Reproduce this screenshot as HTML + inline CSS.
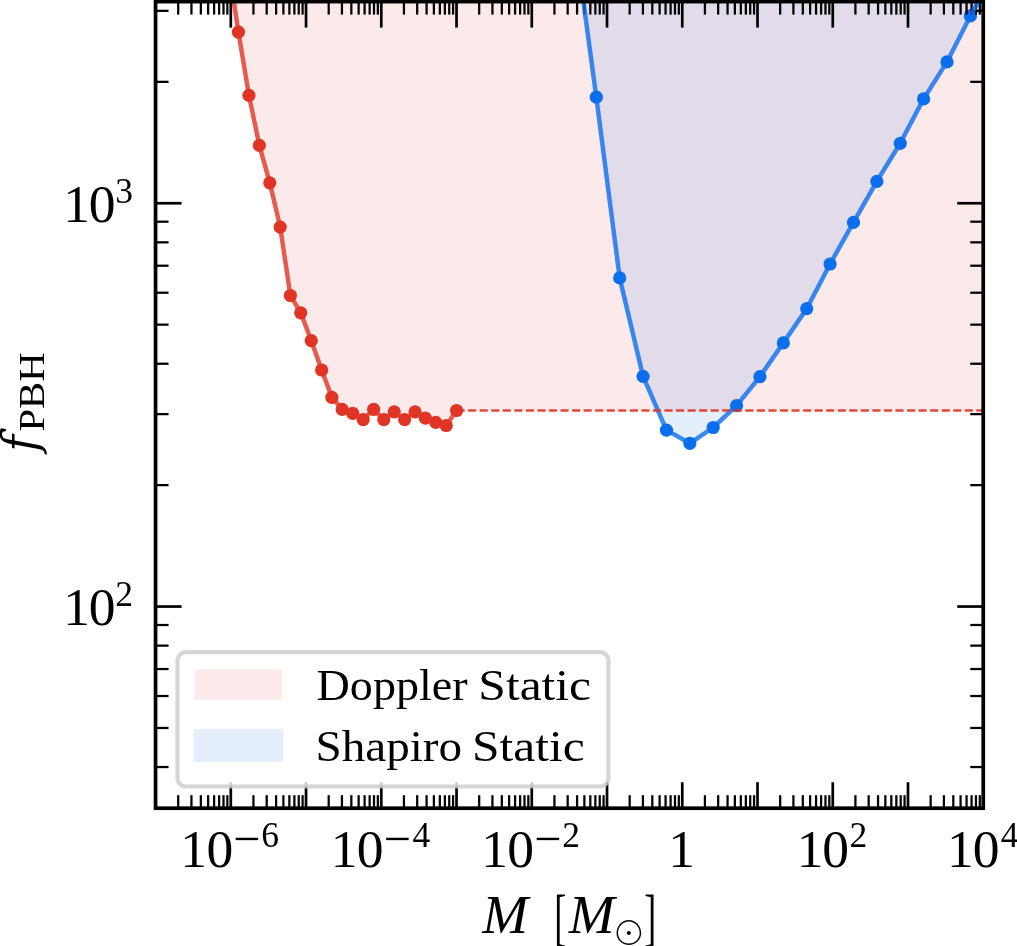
<!DOCTYPE html>
<html><head><meta charset="utf-8"><title>f_PBH vs M</title>
<style>html,body{margin:0;padding:0;background:#fff;overflow:hidden}svg{display:block}</style>
</head><body>
<svg width="1017" height="946" viewBox="0 0 1017 946">
<defs><clipPath id="ax"><rect x="155.55" y="1.60" width="827.70" height="806.60"/></clipPath></defs>
<rect width="1017" height="946" fill="#fff"/>
<g clip-path="url(#ax)">
<polygon points="227.90,-37.60 238.44,32.10 248.93,95.40 259.32,145.40 269.76,182.80 280.20,227.10 290.39,295.50 300.73,312.80 311.26,340.70 321.65,370.00 331.84,397.30 342.18,409.30 352.72,413.40 363.21,419.60 373.65,409.30 383.79,419.60 394.23,411.80 404.62,419.60 415.06,411.80 425.35,418.20 435.74,422.40 446.23,425.50 456.57,410.50 1100.00,410.50 1100.00,-200.00 227.90,-200.00" fill="#e13038" fill-opacity="0.1"/>
<polygon points="572.92,-76.20 596.30,97.20 619.68,277.90 643.06,376.40 666.44,430.10 689.82,443.30 713.20,427.50 736.58,405.70 759.96,376.70 783.34,342.90 806.72,308.70 830.10,264.00 853.48,222.40 876.86,181.40 900.24,143.30 923.62,98.90 947.00,61.90 970.38,15.90 993.76,-26.00 993.76,-200.00 572.92,-200.00" fill="#146ee1" fill-opacity="0.11"/>
<circle cx="596.30" cy="97.20" r="6.6" fill="#0a6eee"/>
<circle cx="619.68" cy="277.90" r="6.6" fill="#0a6eee"/>
<circle cx="643.06" cy="376.40" r="6.6" fill="#0a6eee"/>
<circle cx="666.44" cy="430.10" r="6.6" fill="#0a6eee"/>
<circle cx="689.82" cy="443.30" r="6.6" fill="#0a6eee"/>
<circle cx="713.20" cy="427.50" r="6.6" fill="#0a6eee"/>
<circle cx="736.58" cy="405.70" r="6.6" fill="#0a6eee"/>
<circle cx="759.96" cy="376.70" r="6.6" fill="#0a6eee"/>
<circle cx="783.34" cy="342.90" r="6.6" fill="#0a6eee"/>
<circle cx="806.72" cy="308.70" r="6.6" fill="#0a6eee"/>
<circle cx="830.10" cy="264.00" r="6.6" fill="#0a6eee"/>
<circle cx="853.48" cy="222.40" r="6.6" fill="#0a6eee"/>
<circle cx="876.86" cy="181.40" r="6.6" fill="#0a6eee"/>
<circle cx="900.24" cy="143.30" r="6.6" fill="#0a6eee"/>
<circle cx="923.62" cy="98.90" r="6.6" fill="#0a6eee"/>
<circle cx="947.00" cy="61.90" r="6.6" fill="#0a6eee"/>
<circle cx="970.38" cy="15.90" r="6.6" fill="#0a6eee"/>
<circle cx="238.44" cy="32.10" r="6.6" fill="#e03424"/>
<circle cx="248.93" cy="95.40" r="6.6" fill="#e03424"/>
<circle cx="259.32" cy="145.40" r="6.6" fill="#e03424"/>
<circle cx="269.76" cy="182.80" r="6.6" fill="#e03424"/>
<circle cx="280.20" cy="227.10" r="6.6" fill="#e03424"/>
<circle cx="290.39" cy="295.50" r="6.6" fill="#e03424"/>
<circle cx="300.73" cy="312.80" r="6.6" fill="#e03424"/>
<circle cx="311.26" cy="340.70" r="6.6" fill="#e03424"/>
<circle cx="321.65" cy="370.00" r="6.6" fill="#e03424"/>
<circle cx="331.84" cy="397.30" r="6.6" fill="#e03424"/>
<circle cx="342.18" cy="409.30" r="6.6" fill="#e03424"/>
<circle cx="352.72" cy="413.40" r="6.6" fill="#e03424"/>
<circle cx="363.21" cy="419.60" r="6.6" fill="#e03424"/>
<circle cx="373.65" cy="409.30" r="6.6" fill="#e03424"/>
<circle cx="383.79" cy="419.60" r="6.6" fill="#e03424"/>
<circle cx="394.23" cy="411.80" r="6.6" fill="#e03424"/>
<circle cx="404.62" cy="419.60" r="6.6" fill="#e03424"/>
<circle cx="415.06" cy="411.80" r="6.6" fill="#e03424"/>
<circle cx="425.35" cy="418.20" r="6.6" fill="#e03424"/>
<circle cx="435.74" cy="422.40" r="6.6" fill="#e03424"/>
<circle cx="446.23" cy="425.50" r="6.6" fill="#e03424"/>
<circle cx="456.57" cy="410.50" r="6.6" fill="#e03424"/>
</g>
<g stroke="#000" fill="none"><line x1="178.20" y1="808.20" x2="178.20" y2="795.20" stroke-width="2.25"/><line x1="178.20" y1="1.60" x2="178.20" y2="14.60" stroke-width="2.25"/><line x1="191.45" y1="808.20" x2="191.45" y2="795.20" stroke-width="2.25"/><line x1="191.45" y1="1.60" x2="191.45" y2="14.60" stroke-width="2.25"/><line x1="200.85" y1="808.20" x2="200.85" y2="795.20" stroke-width="2.25"/><line x1="200.85" y1="1.60" x2="200.85" y2="14.60" stroke-width="2.25"/><line x1="208.14" y1="808.20" x2="208.14" y2="795.20" stroke-width="2.25"/><line x1="208.14" y1="1.60" x2="208.14" y2="14.60" stroke-width="2.25"/><line x1="214.10" y1="808.20" x2="214.10" y2="795.20" stroke-width="2.25"/><line x1="214.10" y1="1.60" x2="214.10" y2="14.60" stroke-width="2.25"/><line x1="219.14" y1="808.20" x2="219.14" y2="795.20" stroke-width="2.25"/><line x1="219.14" y1="1.60" x2="219.14" y2="14.60" stroke-width="2.25"/><line x1="223.50" y1="808.20" x2="223.50" y2="795.20" stroke-width="2.25"/><line x1="223.50" y1="1.60" x2="223.50" y2="14.60" stroke-width="2.25"/><line x1="227.35" y1="808.20" x2="227.35" y2="795.20" stroke-width="2.25"/><line x1="227.35" y1="1.60" x2="227.35" y2="14.60" stroke-width="2.25"/><line x1="230.80" y1="808.20" x2="230.80" y2="782.20" stroke-width="2.70"/><line x1="230.80" y1="1.60" x2="230.80" y2="27.60" stroke-width="2.70"/><line x1="253.45" y1="808.20" x2="253.45" y2="795.20" stroke-width="2.25"/><line x1="253.45" y1="1.60" x2="253.45" y2="14.60" stroke-width="2.25"/><line x1="266.70" y1="808.20" x2="266.70" y2="795.20" stroke-width="2.25"/><line x1="266.70" y1="1.60" x2="266.70" y2="14.60" stroke-width="2.25"/><line x1="276.10" y1="808.20" x2="276.10" y2="795.20" stroke-width="2.25"/><line x1="276.10" y1="1.60" x2="276.10" y2="14.60" stroke-width="2.25"/><line x1="283.39" y1="808.20" x2="283.39" y2="795.20" stroke-width="2.25"/><line x1="283.39" y1="1.60" x2="283.39" y2="14.60" stroke-width="2.25"/><line x1="289.35" y1="808.20" x2="289.35" y2="795.20" stroke-width="2.25"/><line x1="289.35" y1="1.60" x2="289.35" y2="14.60" stroke-width="2.25"/><line x1="294.38" y1="808.20" x2="294.38" y2="795.20" stroke-width="2.25"/><line x1="294.38" y1="1.60" x2="294.38" y2="14.60" stroke-width="2.25"/><line x1="298.75" y1="808.20" x2="298.75" y2="795.20" stroke-width="2.25"/><line x1="298.75" y1="1.60" x2="298.75" y2="14.60" stroke-width="2.25"/><line x1="302.60" y1="808.20" x2="302.60" y2="795.20" stroke-width="2.25"/><line x1="302.60" y1="1.60" x2="302.60" y2="14.60" stroke-width="2.25"/><line x1="306.04" y1="808.20" x2="306.04" y2="782.20" stroke-width="2.70"/><line x1="306.04" y1="1.60" x2="306.04" y2="27.60" stroke-width="2.70"/><line x1="328.69" y1="808.20" x2="328.69" y2="795.20" stroke-width="2.25"/><line x1="328.69" y1="1.60" x2="328.69" y2="14.60" stroke-width="2.25"/><line x1="341.94" y1="808.20" x2="341.94" y2="795.20" stroke-width="2.25"/><line x1="341.94" y1="1.60" x2="341.94" y2="14.60" stroke-width="2.25"/><line x1="351.34" y1="808.20" x2="351.34" y2="795.20" stroke-width="2.25"/><line x1="351.34" y1="1.60" x2="351.34" y2="14.60" stroke-width="2.25"/><line x1="358.63" y1="808.20" x2="358.63" y2="795.20" stroke-width="2.25"/><line x1="358.63" y1="1.60" x2="358.63" y2="14.60" stroke-width="2.25"/><line x1="364.59" y1="808.20" x2="364.59" y2="795.20" stroke-width="2.25"/><line x1="364.59" y1="1.60" x2="364.59" y2="14.60" stroke-width="2.25"/><line x1="369.63" y1="808.20" x2="369.63" y2="795.20" stroke-width="2.25"/><line x1="369.63" y1="1.60" x2="369.63" y2="14.60" stroke-width="2.25"/><line x1="373.99" y1="808.20" x2="373.99" y2="795.20" stroke-width="2.25"/><line x1="373.99" y1="1.60" x2="373.99" y2="14.60" stroke-width="2.25"/><line x1="377.84" y1="808.20" x2="377.84" y2="795.20" stroke-width="2.25"/><line x1="377.84" y1="1.60" x2="377.84" y2="14.60" stroke-width="2.25"/><line x1="381.29" y1="808.20" x2="381.29" y2="782.20" stroke-width="2.70"/><line x1="381.29" y1="1.60" x2="381.29" y2="27.60" stroke-width="2.70"/><line x1="403.94" y1="808.20" x2="403.94" y2="795.20" stroke-width="2.25"/><line x1="403.94" y1="1.60" x2="403.94" y2="14.60" stroke-width="2.25"/><line x1="417.19" y1="808.20" x2="417.19" y2="795.20" stroke-width="2.25"/><line x1="417.19" y1="1.60" x2="417.19" y2="14.60" stroke-width="2.25"/><line x1="426.59" y1="808.20" x2="426.59" y2="795.20" stroke-width="2.25"/><line x1="426.59" y1="1.60" x2="426.59" y2="14.60" stroke-width="2.25"/><line x1="433.88" y1="808.20" x2="433.88" y2="795.20" stroke-width="2.25"/><line x1="433.88" y1="1.60" x2="433.88" y2="14.60" stroke-width="2.25"/><line x1="439.84" y1="808.20" x2="439.84" y2="795.20" stroke-width="2.25"/><line x1="439.84" y1="1.60" x2="439.84" y2="14.60" stroke-width="2.25"/><line x1="444.87" y1="808.20" x2="444.87" y2="795.20" stroke-width="2.25"/><line x1="444.87" y1="1.60" x2="444.87" y2="14.60" stroke-width="2.25"/><line x1="449.24" y1="808.20" x2="449.24" y2="795.20" stroke-width="2.25"/><line x1="449.24" y1="1.60" x2="449.24" y2="14.60" stroke-width="2.25"/><line x1="453.09" y1="808.20" x2="453.09" y2="795.20" stroke-width="2.25"/><line x1="453.09" y1="1.60" x2="453.09" y2="14.60" stroke-width="2.25"/><line x1="456.53" y1="808.20" x2="456.53" y2="782.20" stroke-width="2.70"/><line x1="456.53" y1="1.60" x2="456.53" y2="27.60" stroke-width="2.70"/><line x1="479.18" y1="808.20" x2="479.18" y2="795.20" stroke-width="2.25"/><line x1="479.18" y1="1.60" x2="479.18" y2="14.60" stroke-width="2.25"/><line x1="492.43" y1="808.20" x2="492.43" y2="795.20" stroke-width="2.25"/><line x1="492.43" y1="1.60" x2="492.43" y2="14.60" stroke-width="2.25"/><line x1="501.83" y1="808.20" x2="501.83" y2="795.20" stroke-width="2.25"/><line x1="501.83" y1="1.60" x2="501.83" y2="14.60" stroke-width="2.25"/><line x1="509.12" y1="808.20" x2="509.12" y2="795.20" stroke-width="2.25"/><line x1="509.12" y1="1.60" x2="509.12" y2="14.60" stroke-width="2.25"/><line x1="515.08" y1="808.20" x2="515.08" y2="795.20" stroke-width="2.25"/><line x1="515.08" y1="1.60" x2="515.08" y2="14.60" stroke-width="2.25"/><line x1="520.12" y1="808.20" x2="520.12" y2="795.20" stroke-width="2.25"/><line x1="520.12" y1="1.60" x2="520.12" y2="14.60" stroke-width="2.25"/><line x1="524.48" y1="808.20" x2="524.48" y2="795.20" stroke-width="2.25"/><line x1="524.48" y1="1.60" x2="524.48" y2="14.60" stroke-width="2.25"/><line x1="528.33" y1="808.20" x2="528.33" y2="795.20" stroke-width="2.25"/><line x1="528.33" y1="1.60" x2="528.33" y2="14.60" stroke-width="2.25"/><line x1="531.78" y1="808.20" x2="531.78" y2="782.20" stroke-width="2.70"/><line x1="531.78" y1="1.60" x2="531.78" y2="27.60" stroke-width="2.70"/><line x1="554.43" y1="808.20" x2="554.43" y2="795.20" stroke-width="2.25"/><line x1="554.43" y1="1.60" x2="554.43" y2="14.60" stroke-width="2.25"/><line x1="567.68" y1="808.20" x2="567.68" y2="795.20" stroke-width="2.25"/><line x1="567.68" y1="1.60" x2="567.68" y2="14.60" stroke-width="2.25"/><line x1="577.08" y1="808.20" x2="577.08" y2="795.20" stroke-width="2.25"/><line x1="577.08" y1="1.60" x2="577.08" y2="14.60" stroke-width="2.25"/><line x1="584.37" y1="808.20" x2="584.37" y2="795.20" stroke-width="2.25"/><line x1="584.37" y1="1.60" x2="584.37" y2="14.60" stroke-width="2.25"/><line x1="590.33" y1="808.20" x2="590.33" y2="795.20" stroke-width="2.25"/><line x1="590.33" y1="1.60" x2="590.33" y2="14.60" stroke-width="2.25"/><line x1="595.36" y1="808.20" x2="595.36" y2="795.20" stroke-width="2.25"/><line x1="595.36" y1="1.60" x2="595.36" y2="14.60" stroke-width="2.25"/><line x1="599.73" y1="808.20" x2="599.73" y2="795.20" stroke-width="2.25"/><line x1="599.73" y1="1.60" x2="599.73" y2="14.60" stroke-width="2.25"/><line x1="603.58" y1="808.20" x2="603.58" y2="795.20" stroke-width="2.25"/><line x1="603.58" y1="1.60" x2="603.58" y2="14.60" stroke-width="2.25"/><line x1="607.02" y1="808.20" x2="607.02" y2="782.20" stroke-width="2.70"/><line x1="607.02" y1="1.60" x2="607.02" y2="27.60" stroke-width="2.70"/><line x1="629.67" y1="808.20" x2="629.67" y2="795.20" stroke-width="2.25"/><line x1="629.67" y1="1.60" x2="629.67" y2="14.60" stroke-width="2.25"/><line x1="642.92" y1="808.20" x2="642.92" y2="795.20" stroke-width="2.25"/><line x1="642.92" y1="1.60" x2="642.92" y2="14.60" stroke-width="2.25"/><line x1="652.32" y1="808.20" x2="652.32" y2="795.20" stroke-width="2.25"/><line x1="652.32" y1="1.60" x2="652.32" y2="14.60" stroke-width="2.25"/><line x1="659.61" y1="808.20" x2="659.61" y2="795.20" stroke-width="2.25"/><line x1="659.61" y1="1.60" x2="659.61" y2="14.60" stroke-width="2.25"/><line x1="665.57" y1="808.20" x2="665.57" y2="795.20" stroke-width="2.25"/><line x1="665.57" y1="1.60" x2="665.57" y2="14.60" stroke-width="2.25"/><line x1="670.61" y1="808.20" x2="670.61" y2="795.20" stroke-width="2.25"/><line x1="670.61" y1="1.60" x2="670.61" y2="14.60" stroke-width="2.25"/><line x1="674.97" y1="808.20" x2="674.97" y2="795.20" stroke-width="2.25"/><line x1="674.97" y1="1.60" x2="674.97" y2="14.60" stroke-width="2.25"/><line x1="678.82" y1="808.20" x2="678.82" y2="795.20" stroke-width="2.25"/><line x1="678.82" y1="1.60" x2="678.82" y2="14.60" stroke-width="2.25"/><line x1="682.27" y1="808.20" x2="682.27" y2="782.20" stroke-width="2.70"/><line x1="682.27" y1="1.60" x2="682.27" y2="27.60" stroke-width="2.70"/><line x1="704.92" y1="808.20" x2="704.92" y2="795.20" stroke-width="2.25"/><line x1="704.92" y1="1.60" x2="704.92" y2="14.60" stroke-width="2.25"/><line x1="718.17" y1="808.20" x2="718.17" y2="795.20" stroke-width="2.25"/><line x1="718.17" y1="1.60" x2="718.17" y2="14.60" stroke-width="2.25"/><line x1="727.57" y1="808.20" x2="727.57" y2="795.20" stroke-width="2.25"/><line x1="727.57" y1="1.60" x2="727.57" y2="14.60" stroke-width="2.25"/><line x1="734.86" y1="808.20" x2="734.86" y2="795.20" stroke-width="2.25"/><line x1="734.86" y1="1.60" x2="734.86" y2="14.60" stroke-width="2.25"/><line x1="740.82" y1="808.20" x2="740.82" y2="795.20" stroke-width="2.25"/><line x1="740.82" y1="1.60" x2="740.82" y2="14.60" stroke-width="2.25"/><line x1="745.85" y1="808.20" x2="745.85" y2="795.20" stroke-width="2.25"/><line x1="745.85" y1="1.60" x2="745.85" y2="14.60" stroke-width="2.25"/><line x1="750.22" y1="808.20" x2="750.22" y2="795.20" stroke-width="2.25"/><line x1="750.22" y1="1.60" x2="750.22" y2="14.60" stroke-width="2.25"/><line x1="754.07" y1="808.20" x2="754.07" y2="795.20" stroke-width="2.25"/><line x1="754.07" y1="1.60" x2="754.07" y2="14.60" stroke-width="2.25"/><line x1="757.51" y1="808.20" x2="757.51" y2="782.20" stroke-width="2.70"/><line x1="757.51" y1="1.60" x2="757.51" y2="27.60" stroke-width="2.70"/><line x1="780.16" y1="808.20" x2="780.16" y2="795.20" stroke-width="2.25"/><line x1="780.16" y1="1.60" x2="780.16" y2="14.60" stroke-width="2.25"/><line x1="793.41" y1="808.20" x2="793.41" y2="795.20" stroke-width="2.25"/><line x1="793.41" y1="1.60" x2="793.41" y2="14.60" stroke-width="2.25"/><line x1="802.81" y1="808.20" x2="802.81" y2="795.20" stroke-width="2.25"/><line x1="802.81" y1="1.60" x2="802.81" y2="14.60" stroke-width="2.25"/><line x1="810.10" y1="808.20" x2="810.10" y2="795.20" stroke-width="2.25"/><line x1="810.10" y1="1.60" x2="810.10" y2="14.60" stroke-width="2.25"/><line x1="816.06" y1="808.20" x2="816.06" y2="795.20" stroke-width="2.25"/><line x1="816.06" y1="1.60" x2="816.06" y2="14.60" stroke-width="2.25"/><line x1="821.10" y1="808.20" x2="821.10" y2="795.20" stroke-width="2.25"/><line x1="821.10" y1="1.60" x2="821.10" y2="14.60" stroke-width="2.25"/><line x1="825.46" y1="808.20" x2="825.46" y2="795.20" stroke-width="2.25"/><line x1="825.46" y1="1.60" x2="825.46" y2="14.60" stroke-width="2.25"/><line x1="829.31" y1="808.20" x2="829.31" y2="795.20" stroke-width="2.25"/><line x1="829.31" y1="1.60" x2="829.31" y2="14.60" stroke-width="2.25"/><line x1="832.76" y1="808.20" x2="832.76" y2="782.20" stroke-width="2.70"/><line x1="832.76" y1="1.60" x2="832.76" y2="27.60" stroke-width="2.70"/><line x1="855.41" y1="808.20" x2="855.41" y2="795.20" stroke-width="2.25"/><line x1="855.41" y1="1.60" x2="855.41" y2="14.60" stroke-width="2.25"/><line x1="868.66" y1="808.20" x2="868.66" y2="795.20" stroke-width="2.25"/><line x1="868.66" y1="1.60" x2="868.66" y2="14.60" stroke-width="2.25"/><line x1="878.06" y1="808.20" x2="878.06" y2="795.20" stroke-width="2.25"/><line x1="878.06" y1="1.60" x2="878.06" y2="14.60" stroke-width="2.25"/><line x1="885.35" y1="808.20" x2="885.35" y2="795.20" stroke-width="2.25"/><line x1="885.35" y1="1.60" x2="885.35" y2="14.60" stroke-width="2.25"/><line x1="891.31" y1="808.20" x2="891.31" y2="795.20" stroke-width="2.25"/><line x1="891.31" y1="1.60" x2="891.31" y2="14.60" stroke-width="2.25"/><line x1="896.34" y1="808.20" x2="896.34" y2="795.20" stroke-width="2.25"/><line x1="896.34" y1="1.60" x2="896.34" y2="14.60" stroke-width="2.25"/><line x1="900.71" y1="808.20" x2="900.71" y2="795.20" stroke-width="2.25"/><line x1="900.71" y1="1.60" x2="900.71" y2="14.60" stroke-width="2.25"/><line x1="904.56" y1="808.20" x2="904.56" y2="795.20" stroke-width="2.25"/><line x1="904.56" y1="1.60" x2="904.56" y2="14.60" stroke-width="2.25"/><line x1="908.00" y1="808.20" x2="908.00" y2="782.20" stroke-width="2.70"/><line x1="908.00" y1="1.60" x2="908.00" y2="27.60" stroke-width="2.70"/><line x1="930.65" y1="808.20" x2="930.65" y2="795.20" stroke-width="2.25"/><line x1="930.65" y1="1.60" x2="930.65" y2="14.60" stroke-width="2.25"/><line x1="943.90" y1="808.20" x2="943.90" y2="795.20" stroke-width="2.25"/><line x1="943.90" y1="1.60" x2="943.90" y2="14.60" stroke-width="2.25"/><line x1="953.30" y1="808.20" x2="953.30" y2="795.20" stroke-width="2.25"/><line x1="953.30" y1="1.60" x2="953.30" y2="14.60" stroke-width="2.25"/><line x1="960.59" y1="808.20" x2="960.59" y2="795.20" stroke-width="2.25"/><line x1="960.59" y1="1.60" x2="960.59" y2="14.60" stroke-width="2.25"/><line x1="966.55" y1="808.20" x2="966.55" y2="795.20" stroke-width="2.25"/><line x1="966.55" y1="1.60" x2="966.55" y2="14.60" stroke-width="2.25"/><line x1="971.59" y1="808.20" x2="971.59" y2="795.20" stroke-width="2.25"/><line x1="971.59" y1="1.60" x2="971.59" y2="14.60" stroke-width="2.25"/><line x1="975.95" y1="808.20" x2="975.95" y2="795.20" stroke-width="2.25"/><line x1="975.95" y1="1.60" x2="975.95" y2="14.60" stroke-width="2.25"/><line x1="979.80" y1="808.20" x2="979.80" y2="795.20" stroke-width="2.25"/><line x1="979.80" y1="1.60" x2="979.80" y2="14.60" stroke-width="2.25"/><line x1="155.55" y1="606.55" x2="181.55" y2="606.55" stroke-width="2.70"/><line x1="983.25" y1="606.55" x2="957.25" y2="606.55" stroke-width="2.70"/><line x1="155.55" y1="203.25" x2="181.55" y2="203.25" stroke-width="2.70"/><line x1="983.25" y1="203.25" x2="957.25" y2="203.25" stroke-width="2.70"/><line x1="155.55" y1="767.04" x2="168.55" y2="767.04" stroke-width="2.25"/><line x1="983.25" y1="767.04" x2="970.25" y2="767.04" stroke-width="2.25"/><line x1="155.55" y1="727.96" x2="168.55" y2="727.96" stroke-width="2.25"/><line x1="983.25" y1="727.96" x2="970.25" y2="727.96" stroke-width="2.25"/><line x1="155.55" y1="696.02" x2="168.55" y2="696.02" stroke-width="2.25"/><line x1="983.25" y1="696.02" x2="970.25" y2="696.02" stroke-width="2.25"/><line x1="155.55" y1="669.02" x2="168.55" y2="669.02" stroke-width="2.25"/><line x1="983.25" y1="669.02" x2="970.25" y2="669.02" stroke-width="2.25"/><line x1="155.55" y1="645.63" x2="168.55" y2="645.63" stroke-width="2.25"/><line x1="983.25" y1="645.63" x2="970.25" y2="645.63" stroke-width="2.25"/><line x1="155.55" y1="625.00" x2="168.55" y2="625.00" stroke-width="2.25"/><line x1="983.25" y1="625.00" x2="970.25" y2="625.00" stroke-width="2.25"/><line x1="155.55" y1="485.14" x2="168.55" y2="485.14" stroke-width="2.25"/><line x1="983.25" y1="485.14" x2="970.25" y2="485.14" stroke-width="2.25"/><line x1="155.55" y1="414.13" x2="168.55" y2="414.13" stroke-width="2.25"/><line x1="983.25" y1="414.13" x2="970.25" y2="414.13" stroke-width="2.25"/><line x1="155.55" y1="363.74" x2="168.55" y2="363.74" stroke-width="2.25"/><line x1="983.25" y1="363.74" x2="970.25" y2="363.74" stroke-width="2.25"/><line x1="155.55" y1="324.66" x2="168.55" y2="324.66" stroke-width="2.25"/><line x1="983.25" y1="324.66" x2="970.25" y2="324.66" stroke-width="2.25"/><line x1="155.55" y1="292.72" x2="168.55" y2="292.72" stroke-width="2.25"/><line x1="983.25" y1="292.72" x2="970.25" y2="292.72" stroke-width="2.25"/><line x1="155.55" y1="265.72" x2="168.55" y2="265.72" stroke-width="2.25"/><line x1="983.25" y1="265.72" x2="970.25" y2="265.72" stroke-width="2.25"/><line x1="155.55" y1="242.33" x2="168.55" y2="242.33" stroke-width="2.25"/><line x1="983.25" y1="242.33" x2="970.25" y2="242.33" stroke-width="2.25"/><line x1="155.55" y1="221.70" x2="168.55" y2="221.70" stroke-width="2.25"/><line x1="983.25" y1="221.70" x2="970.25" y2="221.70" stroke-width="2.25"/><line x1="155.55" y1="81.84" x2="168.55" y2="81.84" stroke-width="2.25"/><line x1="983.25" y1="81.84" x2="970.25" y2="81.84" stroke-width="2.25"/><line x1="155.55" y1="10.83" x2="168.55" y2="10.83" stroke-width="2.25"/><line x1="983.25" y1="10.83" x2="970.25" y2="10.83" stroke-width="2.25"/></g>
<g clip-path="url(#ax)" fill="none" stroke-width="4.5" stroke-linejoin="round" stroke-opacity="0.8">
<polyline points="572.92,-76.20 596.30,97.20 619.68,277.90 643.06,376.40 666.44,430.10 689.82,443.30 713.20,427.50 736.58,405.70 759.96,376.70 783.34,342.90 806.72,308.70 830.10,264.00 853.48,222.40 876.86,181.40 900.24,143.30 923.62,98.90 947.00,61.90 970.38,15.90 993.76,-26.00" stroke="#0a6eee"/>
<polyline points="227.90,-37.60 238.44,32.10 248.93,95.40 259.32,145.40 269.76,182.80 280.20,227.10 290.39,295.50 300.73,312.80 311.26,340.70 321.65,370.00 331.84,397.30 342.18,409.30 352.72,413.40 363.21,419.60 373.65,409.30 383.79,419.60 394.23,411.80 404.62,419.60 415.06,411.80 425.35,418.20 435.74,422.40 446.23,425.50 456.57,410.50" stroke="#e03424"/>
<line x1="456.57" y1="410.50" x2="993.25" y2="410.50" stroke="#e03424" stroke-opacity="0.9" stroke-width="2.4" stroke-dasharray="8.1 3.45"/>
</g>
<rect x="155.55" y="1.60" width="827.70" height="806.60" fill="none" stroke="#000" stroke-width="3.7"/>
<rect x="177.45" y="652.20" width="431.05" height="134.30" rx="8.6" ry="8.6" fill="#fff" fill-opacity="0.8" stroke="#ccc" stroke-opacity="0.8" stroke-width="4.2"/>
<rect x="194.5" y="669.4" width="87.4" height="30.5" fill="#e13038" fill-opacity="0.1"/>
<rect x="193.5" y="729.1" width="89.5" height="32.8" fill="#146ee1" fill-opacity="0.11"/>
<text x="180.17 206.38" y="866.70" font-family='"Liberation Serif", serif' font-size="53.50">10<tspan x="233.28" y="854.97" font-size="48.40">−</tspan><tspan x="261.27" y="847.40" font-size="35.50">6</tspan></text><text x="330.66 356.87" y="866.70" font-family='"Liberation Serif", serif' font-size="53.50">10<tspan x="383.76" y="854.97" font-size="48.40">−</tspan><tspan x="412.58" y="847.40" font-size="35.50">4</tspan></text><text x="481.15 507.36" y="866.70" font-family='"Liberation Serif", serif' font-size="53.50">10<tspan x="534.26" y="854.97" font-size="48.40">−</tspan><tspan x="562.21" y="847.40" font-size="35.50">2</tspan></text><text x="668.14" y="866.70" font-family='"Liberation Serif", serif' font-size="53.50">1</text><text x="796.63 822.34" y="866.70" font-family='"Liberation Serif", serif' font-size="53.50">10<tspan x="849.39" y="847.40" font-size="35.50">2</tspan></text><text x="947.12 972.83" y="866.70" font-family='"Liberation Serif", serif' font-size="53.50">10<tspan x="1000.74" y="847.40" font-size="35.50">4</tspan></text><text x="63.18 88.68" y="222.40" font-family='"Liberation Serif", serif' font-size="53.50">10<tspan x="115.20" y="203.30" font-size="35.50">3</tspan></text><text x="63.18 88.68" y="625.20" font-family='"Liberation Serif", serif' font-size="53.50">10<tspan x="115.34" y="606.10" font-size="35.50">2</tspan></text><text><tspan x="482.26" y="933.00" font-family='"Liberation Serif", serif' font-style="italic" font-size="55.00">M</tspan> <tspan x="554.25" y="937.82" font-family='"Liberation Serif", serif' font-style="normal" font-size="64.00" textLength="11.94" lengthAdjust="spacingAndGlyphs">[</tspan><tspan x="568.86" y="933.00" font-family='"Liberation Serif", serif' font-style="italic" font-size="55.00">M</tspan><tspan x="612.18" y="944.73" font-family='"Noto Serif CJK SC", "DejaVu Serif", serif' font-style="normal" font-size="33.24">⊙</tspan><tspan x="644.32" y="937.82" font-family='"Liberation Serif", serif' font-style="normal" font-size="64.00" textLength="11.94" lengthAdjust="spacingAndGlyphs">]</tspan></text><text y="700.10" font-family='"Liberation Serif", serif' font-size="44.50"><tspan x="316.56" textLength="151.15" lengthAdjust="spacingAndGlyphs">Doppler</tspan> <tspan x="478.39" textLength="112.66" lengthAdjust="spacingAndGlyphs">Static</tspan></text><text y="761.30" font-family='"Liberation Serif", serif' font-size="44.50"><tspan x="315.54" textLength="146.54" lengthAdjust="spacingAndGlyphs">Shapiro</tspan> <tspan x="472.09" textLength="112.66" lengthAdjust="spacingAndGlyphs">Static</tspan></text>
<text transform="rotate(-90)"><tspan x="-451.73" y="37.10" font-family='"DejaVu Serif", serif' font-style="italic" font-size="48.80" textLength="16.81" lengthAdjust="spacingAndGlyphs">f</tspan><tspan x="-431.58" y="44.40" font-family='"Liberation Serif", serif' font-style="normal" font-size="35.90" textLength="79.07" lengthAdjust="spacingAndGlyphs">PBH</tspan></text>
</svg>
</body></html>
